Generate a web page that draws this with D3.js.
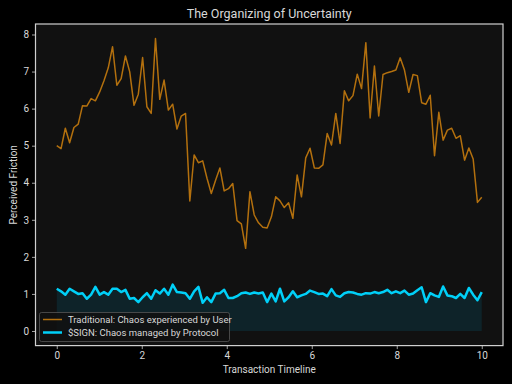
<!DOCTYPE html>
<html>
<head>
<meta charset="utf-8">
<script src="https://cdn.jsdelivr.net/npm/d3@7"></script>
<style>
  body { margin: 0; background: #000; }
  svg { display: block; font-family: Roboto, "Open Sans", sans-serif; }
</style>
</head>
<body>
<svg id="chart"></svg>
<script>
// Data (100 evenly spaced samples over 0..10)
const traditional = [
  5.00, 4.92, 5.47, 5.08, 5.49, 5.58, 6.08, 6.07, 6.27, 6.21,
  6.45, 6.75, 7.10, 7.67, 6.63, 6.81, 7.42, 6.99, 6.09, 6.39,
  7.38, 6.05, 5.87, 7.89, 6.25, 6.77, 5.96, 6.12, 5.45, 5.80,
  5.87, 3.51, 4.75, 4.54, 4.59, 4.12, 3.71, 4.07, 4.40, 3.78,
  3.84, 3.98, 2.98, 2.89, 2.23, 3.76, 3.13, 2.92, 2.80, 2.78,
  3.08, 3.62, 3.51, 3.33, 3.46, 3.04, 4.21, 3.62, 4.67, 4.93,
  4.40, 4.39, 4.48, 5.33, 5.02, 5.87, 5.06, 6.48, 6.21, 6.35,
  6.93, 6.54, 7.78, 5.75, 7.15, 5.80, 6.92, 6.97, 7.00, 7.04,
  7.37, 7.04, 6.44, 6.92, 6.89, 6.16, 6.12, 6.36, 4.73, 5.90,
  5.15, 5.42, 5.47, 5.20, 5.27, 4.61, 4.94, 4.64, 3.47, 3.61
];
const sign = [
  1.14, 1.07, 0.98, 1.14, 1.07, 1.00, 1.02, 0.87, 0.98, 1.19,
  0.98, 1.05, 0.98, 1.14, 1.14, 1.05, 1.11, 0.87, 0.89, 0.78,
  0.91, 1.02, 0.87, 1.10, 1.01, 1.14, 0.98, 1.25, 1.05, 1.04,
  1.02, 0.87, 1.07, 1.19, 0.76, 0.91, 0.78, 1.01, 1.02, 1.11,
  0.89, 0.89, 0.94, 1.02, 1.04, 1.00, 1.04, 1.01, 1.04, 0.78,
  1.01, 0.80, 1.14, 0.80, 0.91, 1.07, 0.91, 0.96, 1.00, 1.09,
  1.05, 1.00, 1.01, 0.94, 1.13, 0.96, 0.92, 1.02, 1.05, 1.04,
  1.00, 0.98, 1.02, 1.01, 1.05, 1.02, 1.05, 1.11, 1.02, 1.07,
  1.02, 1.09, 0.98, 1.01, 1.10, 1.18, 0.78, 1.02, 0.96, 0.92,
  1.20, 0.96, 0.94, 0.89, 1.00, 0.89, 1.16, 0.98, 0.83, 1.05
];
const timeline = traditional.map((_, i) => (i * 10) / (traditional.length - 1));
const xTicks = [0, 2, 4, 6, 8, 10];
const yTicks = [0, 1, 2, 3, 4, 5, 6, 7, 8];
const labels = [
  "Traditional: Chaos experienced by User",
  "$SIGN: Chaos managed by Protocol"
];

// Chart Dimensions
const width = 512;
const height = 384;
const plot = { left: 35.5, right: 503, top: 24, bottom: 345.6 };

const orange = "#b3700e";
const cyan = "#00d0f8";
const textColor = "#d8d8d8";

const svg = d3
  .select("#chart")
  .attr("width", width)
  .attr("height", height);

svg.append("rect").attr("width", width).attr("height", height).attr("fill", "#000");

// Scales
const xScale = d3.scaleLinear().domain([-0.5, 10.5]).range([plot.left, plot.right]);
const yScale = d3.scaleLinear().domain([-0.394, 8.283]).range([plot.bottom, plot.top]);

// Plot background
svg
  .append("rect")
  .attr("x", plot.left)
  .attr("y", plot.top)
  .attr("width", plot.right - plot.left)
  .attr("height", plot.bottom - plot.top)
  .attr("fill", "#111111");

// Fill under $SIGN line
const area = d3
  .area()
  .x((d, i) => xScale(timeline[i]))
  .y0(yScale(0))
  .y1((d) => yScale(d));

svg.append("path").datum(sign).attr("d", area).attr("fill", "#0e2329");

const line = d3
  .line()
  .x((d, i) => xScale(timeline[i]))
  .y((d) => yScale(d));

svg
  .append("path")
  .datum(traditional)
  .attr("d", line)
  .attr("fill", "none")
  .attr("stroke", orange)
  .attr("stroke-width", 1.5)
  .attr("stroke-linejoin", "round");

svg
  .append("path")
  .datum(sign)
  .attr("d", line)
  .attr("fill", "none")
  .attr("stroke", cyan)
  .attr("stroke-width", 2.5)
  .attr("stroke-linejoin", "round");

// Axes
const xAxis = d3.axisBottom(xScale).tickValues(xTicks).tickSize(3.5).tickPadding(3);
const yAxis = d3.axisLeft(yScale).tickValues(yTicks).tickSize(3.5).tickPadding(3);

const gx = svg
  .append("g")
  .attr("transform", `translate(0, ${plot.bottom})`)
  .call(xAxis);
const gy = svg
  .append("g")
  .attr("transform", `translate(${plot.left}, 0)`)
  .call(yAxis);

[gx, gy].forEach((g) => {
  g.select(".domain").remove();
  g.selectAll(".tick line").attr("stroke", "#cccccc").attr("stroke-width", 0.8);
  g.selectAll(".tick text")
    .attr("fill", textColor)
    .style("font-size", "10px")
    .style("font-family", "Roboto, sans-serif");
});

// Frame
svg
  .append("rect")
  .attr("x", plot.left)
  .attr("y", plot.top)
  .attr("width", plot.right - plot.left)
  .attr("height", plot.bottom - plot.top)
  .attr("fill", "none")
  .attr("stroke", "#d0d0d0")
  .attr("stroke-width", 1.2);

// Title and axis labels
svg
  .append("text")
  .attr("x", (plot.left + plot.right) / 2)
  .attr("y", 18)
  .attr("text-anchor", "middle")
  .attr("fill", textColor)
  .style("font-size", "12.5px")
  .text("The Organizing of Uncertainty");

svg
  .append("text")
  .attr("x", (plot.left + plot.right) / 2)
  .attr("y", 373)
  .attr("text-anchor", "middle")
  .attr("fill", textColor)
  .style("font-size", "10px")
  .text("Transaction Timeline");

svg
  .append("text")
  .attr("transform", `translate(17, ${(plot.top + plot.bottom) / 2}) rotate(-90)`)
  .attr("text-anchor", "middle")
  .attr("fill", textColor)
  .style("font-size", "10px")
  .text("Perceived Friction");

// Legend
const legend = svg.append("g").attr("transform", "translate(39.5, 312.5)");
legend
  .append("rect")
  .attr("width", 190)
  .attr("height", 29)
  .attr("rx", 2)
  .attr("fill", "#111111")
  .attr("fill-opacity", 0.85)
  .attr("stroke", "#555555")
  .attr("stroke-width", 0.8);

const items = legend
  .selectAll(".item")
  .data(labels)
  .enter()
  .append("g")
  .attr("transform", (d, i) => `translate(0, ${7 + i * 13})`);

items
  .append("line")
  .attr("x1", 3.5)
  .attr("x2", 22.5)
  .attr("stroke", (d, i) => (i === 0 ? orange : cyan))
  .attr("stroke-width", (d, i) => (i === 0 ? 1.5 : 2.5));

items
  .append("text")
  .attr("x", 28.5)
  .attr("dy", "0.35em")
  .attr("fill", textColor)
  .style("font-size", "9.5px")
  .text((d) => d);
</script>
</body>
</html>
